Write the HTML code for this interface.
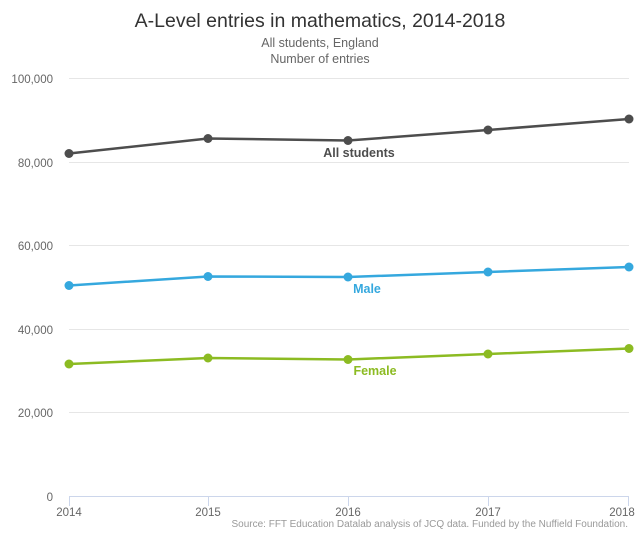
<!DOCTYPE html>
<html><head><meta charset="utf-8"><style>
body{margin:0;background:#fff;}
svg{display:block;font-family:"Liberation Sans",Arial,sans-serif;}
</style></head><body>
<svg width="640" height="533" viewBox="0 0 640 533" xmlns="http://www.w3.org/2000/svg">
<rect width="640" height="533" fill="#fff"/>
<text x="320" y="27" text-anchor="middle" font-size="19.5" fill="#333">A-Level entries in mathematics, 2014-2018</text>
<text x="320" y="47" text-anchor="middle" font-size="12.5" fill="#666">All students, England</text>
<text x="320" y="63" text-anchor="middle" font-size="12.5" fill="#666">Number of entries</text>
<g stroke="#e6e6e6" stroke-width="1">
<line x1="69" x2="629" y1="78.5" y2="78.5"/>
<line x1="69" x2="629" y1="162.5" y2="162.5"/>
<line x1="69" x2="629" y1="245.5" y2="245.5"/>
<line x1="69" x2="629" y1="329.5" y2="329.5"/>
<line x1="69" x2="629" y1="412.5" y2="412.5"/>
</g>
<g stroke="#ccd6eb" stroke-width="1">
<line x1="69" x2="629" y1="496.5" y2="496.5"/>
<line x1="69.5" x2="69.5" y1="496" y2="506"/>
<line x1="208.5" x2="208.5" y1="496" y2="506"/>
<line x1="348.5" x2="348.5" y1="496" y2="506"/>
<line x1="488.5" x2="488.5" y1="496" y2="506"/>
<line x1="628.5" x2="628.5" y1="496" y2="506"/>
</g>
<g font-size="11.5" fill="#666" text-anchor="end">
<text x="53" y="83">100,000</text>
<text x="53" y="167">80,000</text>
<text x="53" y="250">60,000</text>
<text x="53" y="334">40,000</text>
<text x="53" y="417">20,000</text>
<text x="53" y="501">0</text>
</g>
<g font-size="11.5" fill="#666" text-anchor="middle">
<text x="69" y="516">2014</text>
<text x="208" y="516">2015</text>
<text x="348" y="516">2016</text>
<text x="488" y="516">2017</text>
<text x="622" y="516">2018</text>
</g>
<text x="628" y="527" text-anchor="end" font-size="10" fill="#999">Source: FFT Education Datalab analysis of JCQ data. Funded by the Nuffield Foundation.</text>
<g fill="none" stroke-width="2.5">
<polyline stroke="#4d4d4d" points="69,153.5 208,138.5 348,140.5 488,130 629,119"/>
<polyline stroke="#35a8de" points="69,285.5 208,276.5 348,277 488,272 629,267"/>
<polyline stroke="#8cbb22" points="69,364 208,358 348,359.5 488,354 629,348.5"/>
</g>
<g fill="#4d4d4d"><circle cx="69" cy="153.5" r="4.5"/><circle cx="208" cy="138.5" r="4.5"/><circle cx="348" cy="140.5" r="4.5"/><circle cx="488" cy="130" r="4.5"/><circle cx="629" cy="119" r="4.5"/></g>
<g fill="#35a8de"><circle cx="69" cy="285.5" r="4.5"/><circle cx="208" cy="276.5" r="4.5"/><circle cx="348" cy="277" r="4.5"/><circle cx="488" cy="272" r="4.5"/><circle cx="629" cy="267" r="4.5"/></g>
<g fill="#8cbb22"><circle cx="69" cy="364" r="4.5"/><circle cx="208" cy="358" r="4.5"/><circle cx="348" cy="359.5" r="4.5"/><circle cx="488" cy="354" r="4.5"/><circle cx="629" cy="348.5" r="4.5"/></g>
<g font-size="12.5" font-weight="bold" text-anchor="middle">
<text x="359" y="157" fill="#4d4d4d">All students</text>
<text x="367" y="293" fill="#35a8de">Male</text>
<text x="375" y="375" fill="#8cbb22">Female</text>
</g>
</svg>
</body></html>
